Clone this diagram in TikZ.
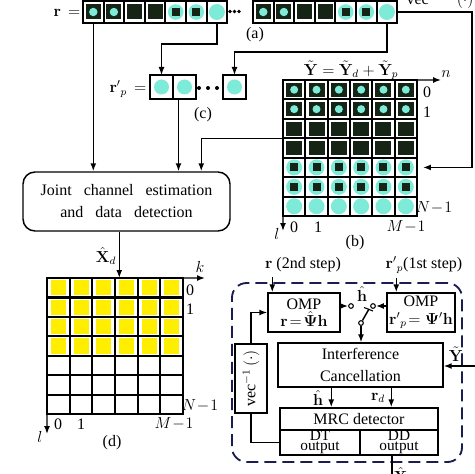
\documentclass[tikz,border=0pt]{standalone}
\usepackage{amsmath}
\usepackage[no-math]{fontspec}
\setmainfont{Liberation Serif}
\usetikzlibrary{arrows.meta,calc}
\definecolor{cyc}{RGB}{125,235,215}
\definecolor{dkc}{RGB}{22,36,22}
\definecolor{ylc}{RGB}{255,238,0}
\definecolor{nvc}{RGB}{28,28,80}
\newcommand\pprect[3]{\fill[#3] ([shift={(-#1,-#2)}]path picture bounding box.center) rectangle ([shift={(#1,#2)}]path picture bounding box.center);}
\newcommand\ppcirc[2]{\fill[#2] (path picture bounding box.center) circle (#1);}
\tikzset{
 every node/.style={font=\fontsize{12}{14}\selectfont},
 arr/.style={-{Latex[length=6pt,width=4.5pt]}, line width=1.1pt},
 ln/.style={line width=1.1pt},
 cb/.style={draw, line width=1.6pt, inner sep=0pt, outer sep=0pt},
 rc/.style={cb, minimum width=15.45pt, minimum height=16.5pt},
 pc/.style={cb, minimum width=17.25pt, minimum height=18pt},
 bc/.style={cb, minimum width=16.75pt, minimum height=14.57pt},
 dc/.style={cb, minimum width=17pt, minimum height=14.57pt},
 tdd/.style={path picture={\pprect{7.5}{7.5}{dkc}\ppcirc{4.2}{cyc}}},
 tdk/.style={path picture={\pprect{7.5}{7.5}{dkc}}},
 tpd/.style={path picture={\ppcirc{7.8}{cyc}\pprect{4}{4}{dkc}}},
 tcy/.style={path picture={\ppcirc{8}{cyc}}},
 tbdd/.style={path picture={\pprect{8}{7}{dkc}\ppcirc{4}{cyc}}},
 tbdk/.style={path picture={\pprect{8}{7}{dkc}}},
 tbpd/.style={path picture={\ppcirc{8}{cyc}\pprect{4}{4}{dkc}}},
 tbcy/.style={path picture={\ppcirc{8}{cyc}}},
 trp/.style={path picture={\ppcirc{7.5}{cyc}}},
 tyl/.style={path picture={\pprect{7.5}{7.6}{ylc}}},
 tem/.style={},
 box/.style={draw, line width=1.1pt, inner sep=0pt, align=center},
 sw/.style={circle, draw, line width=0.8pt, fill=white, inner sep=0pt, minimum size=3.5pt},
}
\begin{document}
\begin{tikzpicture}[x=0.75pt,y=-0.75pt]
\useasboundingbox (0,0) rectangle (474,474);
% ---- r row
\node at (67,13) {$\mathbf{r}\,=$};
\foreach \k/\tp in {1/tdd,2/tdd,3/tdk,4/tdk,5/tpd,6/tpd,7/tcy} {
  \node[rc,\tp] (ra\k) at ({83+20.6*(\k-0.5)},12) {};
  \node[rc,\tp] (rb\k) at ({253+20.6*(\k-0.5)},12) {};
}
\foreach \x in {230,234.5,239} \fill (\x,11.5) circle (1.8);
\node at (255,35) {(a)};
\node at (440,1) {vec\hspace{21pt}$(\cdot)$};
% ---- r'_p row
\node at (128,89) {$\mathbf{r'}_p\,=$};
\node[pc,trp] (rp1) at (161.5,87) {};
\node[pc,trp] (rp2) at (184.5,87) {};
\node[pc,trp] (rp3) at (234.5,87) {};
\foreach \x in {199,208,217} \fill (\x,88) circle (2);
\node at (203,115) {(c)};
% ---- grid b
\foreach \i/\tp in {0/tbdd,1/tbdd,2/tbdk,3/tbdk,4/tbpd,5/tbpd,6/tbcy}
  \foreach \j in {0,...,5}
    \node[bc,\tp] (b-\i-\j) at ({283+22.33*(\j+0.5)},{80+19.43*(\i+0.5)}) {};
\node at (351,70) {$\tilde{\mathbf{Y}}=\tilde{\mathbf{Y}}_d+\tilde{\mathbf{Y}}_p$};
\coordinate (bn) at (441,80);
\coordinate (bl) at (283,231);
\draw[arr] (b-0-5.north east) -- (bn);
\draw[arr] (b-6-0.south west) -- (bl);
\node at (446,74) {$n$};
\node at (427,92) {0};
\node at (427,112) {1};
\node at (434,208) {$N\!-\!1$};
\node at (294,227) {0};
\node at (318,227) {1};
\node at (406,227) {$M\!-\!1$};
\node at (277,234) {$l$};
\node at (355,243) {(b)};
% ---- joint box
\node[box, rounded corners=9pt, minimum width=155.25pt, minimum height=44.25pt, font=\fontsize{12}{16.5}\selectfont] (joint) at (126.5,201.5)
  {Joint\ \ \ channel\ \ \ estimation\\and\ \ \ data\ \ \ detection};
% ---- grid d
\foreach \i/\tp in {0/tyl,1/tyl,2/tyl,3/tyl,4/tem,5/tem,6/tem}
  \foreach \j in {0,...,5}
    \node[dc,\tp] (d-\i-\j) at ({47+22.67*(\j+0.5)},{278+19.43*(\i+0.5)}) {};
\coordinate (dk) at (205,278);
\coordinate (dl) at (47,434);
\draw[arr] (d-0-5.north east) -- (dk);
\draw[arr] (d-6-0.south west) -- (dl);
\node at (200,267) {$k$};
\node at (190,290) {0};
\node at (190,309) {1};
\node at (200,406) {$N\!-\!1$};
\node at (58,424) {0};
\node at (81,424) {1};
\node at (174,424) {$M\!-\!1$};
\node at (40,437) {$l$};
\node at (112,443) {(d)};
% ---- connectors upper part
\coordinate (ya) at (0,44);
\coordinate (yb) at (0,52);
\coordinate (vc) at (472,0);
\draw[arr] (ra7.south) -- (ra7.south |- ya) -| (rp1.north);
\draw[arr] (rb7.south) -- (rb7.south |- yb) -| (rp3.north);
\draw[arr] (ra1.south) -- (ra1.south |- joint.north);
\coordinate (p2) at ($(rp2.south)+(-6,0)$);
\draw[arr] (p2) -- (p2 |- joint.north);
\coordinate (jb) at ($(joint.north west)+(179,0)$);
\draw[arr] (b-3-0.north west) -| (jb);
\draw[arr] (rb7.east) -- (rb7.east -| vc) |- ($(b-4-5.east)+(6,0)$);
\coordinate (jo) at ($(joint.south west)+(97,0)$);
\draw[arr] (jo) -- (jo |- d-0-0.north);
\node at (106,256) {$\hat{\mathbf{X}}_d$};
% ---- bottom-right block
\node[draw=nvc, dash pattern=on 9pt off 4.5pt, line width=1.4pt, rounded corners=11pt,
      minimum width=172.5pt, minimum height=134.25pt, inner sep=0pt] (frame) at (347,372.5) {};
\node (r2) at (303,265) {$\mathbf{r}$ (2nd step)};
\node (rp1st) at (424,265) {$\mathbf{r'}_p$(1st step)};
\node[box, fill=white, minimum width=54pt, minimum height=29.25pt, font=\fontsize{12}{13}\selectfont] (omp1) at (304,312.5)
  {OMP\\$\mathbf{r}\!=\!\hat{\mathbf{\Psi}}\mathbf{h}$};
\node[box, fill=white, minimum width=51pt, minimum height=29.25pt, font=\fontsize{12}{13}\selectfont] (omp2) at (421,312.5)
  {OMP\\$\mathbf{r'}_p\!=\mathbf{\Psi}'\mathbf{h}$};
\node[box, fill=white, minimum width=123.75pt, minimum height=33pt, font=\fontsize{12}{16}\selectfont] (ic) at (360.5,365)
  {Interference\\Cancellation};
\node[box, fill=white, minimum width=118.5pt, minimum height=16.5pt] (mrc) at (359,419) {MRC detector};
\node[box, fill=white, minimum width=60pt, minimum height=18.75pt, font=\fontsize{11.5}{7.5}\selectfont] (dt) at (320,442.5) {DT\\output};
\node[box, fill=white, minimum width=58.5pt, minimum height=18.75pt, font=\fontsize{11.5}{7.5}\selectfont] (dd) at (399,442.5) {DD\\output};
\node[box, fill=white, rotate=90, minimum width=51.75pt, minimum height=24pt] (vecinv) at (251,378.5)
  {vec$^{-1}$\,$(\cdot)$};
\coordinate (a1) at ($(omp1.north west)+(5,0)$);
\draw[arr] (a1 |- r2.south) -- (a1);
\coordinate (a2) at ($(omp2.north west)+(10,0)$);
\draw[arr] (a2 |- rp1st.south) -- (a2);
% switch
\node[sw] (s1) at (351,306) {};
\node[sw] (s2) at (373,306) {};
\node[sw] (s3) at (361,323) {};
\draw[arr] (omp1.east |- s1) -- (s1.west);
\draw[arr] (omp2.west |- s2) -- (s2.east);
\coordinate (sb) at (369,309);
\coordinate (t1) at (364,307.5);
\coordinate (t2) at (373,311);
\draw[ln] (s3) -- (sb);
\draw[line width=0.8pt] (t1) -- (t2);
\node at (362,294) {$\hat{\mathbf{h}}$};
\draw[arr] (s3.south) -- (s3 |- ic.north);
% inputs/outputs
\coordinate (yin) at (478,366);
\draw[arr] (yin) -- (ic.east |- yin);
\node at (456,354) {$\tilde{\mathbf{Y}}$};
\coordinate (h1) at ($(ic.south west)+(54,0)$);
\coordinate (h2) at ($(ic.south west)+(114,0)$);
\draw[arr] (h1) -- (h1 |- mrc.north);
\draw[arr] (h2) -- (h2 |- mrc.north);
\node at (318,398) {$\hat{\mathbf{h}}$};
\node at (378,398) {$\mathbf{r}_d$};
\draw[arr] (vecinv.east) |- (omp1.west);
\draw[ln] (dt.west) -| (vecinv.west);
\coordinate (xo) at (392,486);
\draw[arr] (dd.south -| xo) -- (xo);
\node at (404,476) {$\hat{\mathbf{X}}_d$};
\end{tikzpicture}
\end{document}
